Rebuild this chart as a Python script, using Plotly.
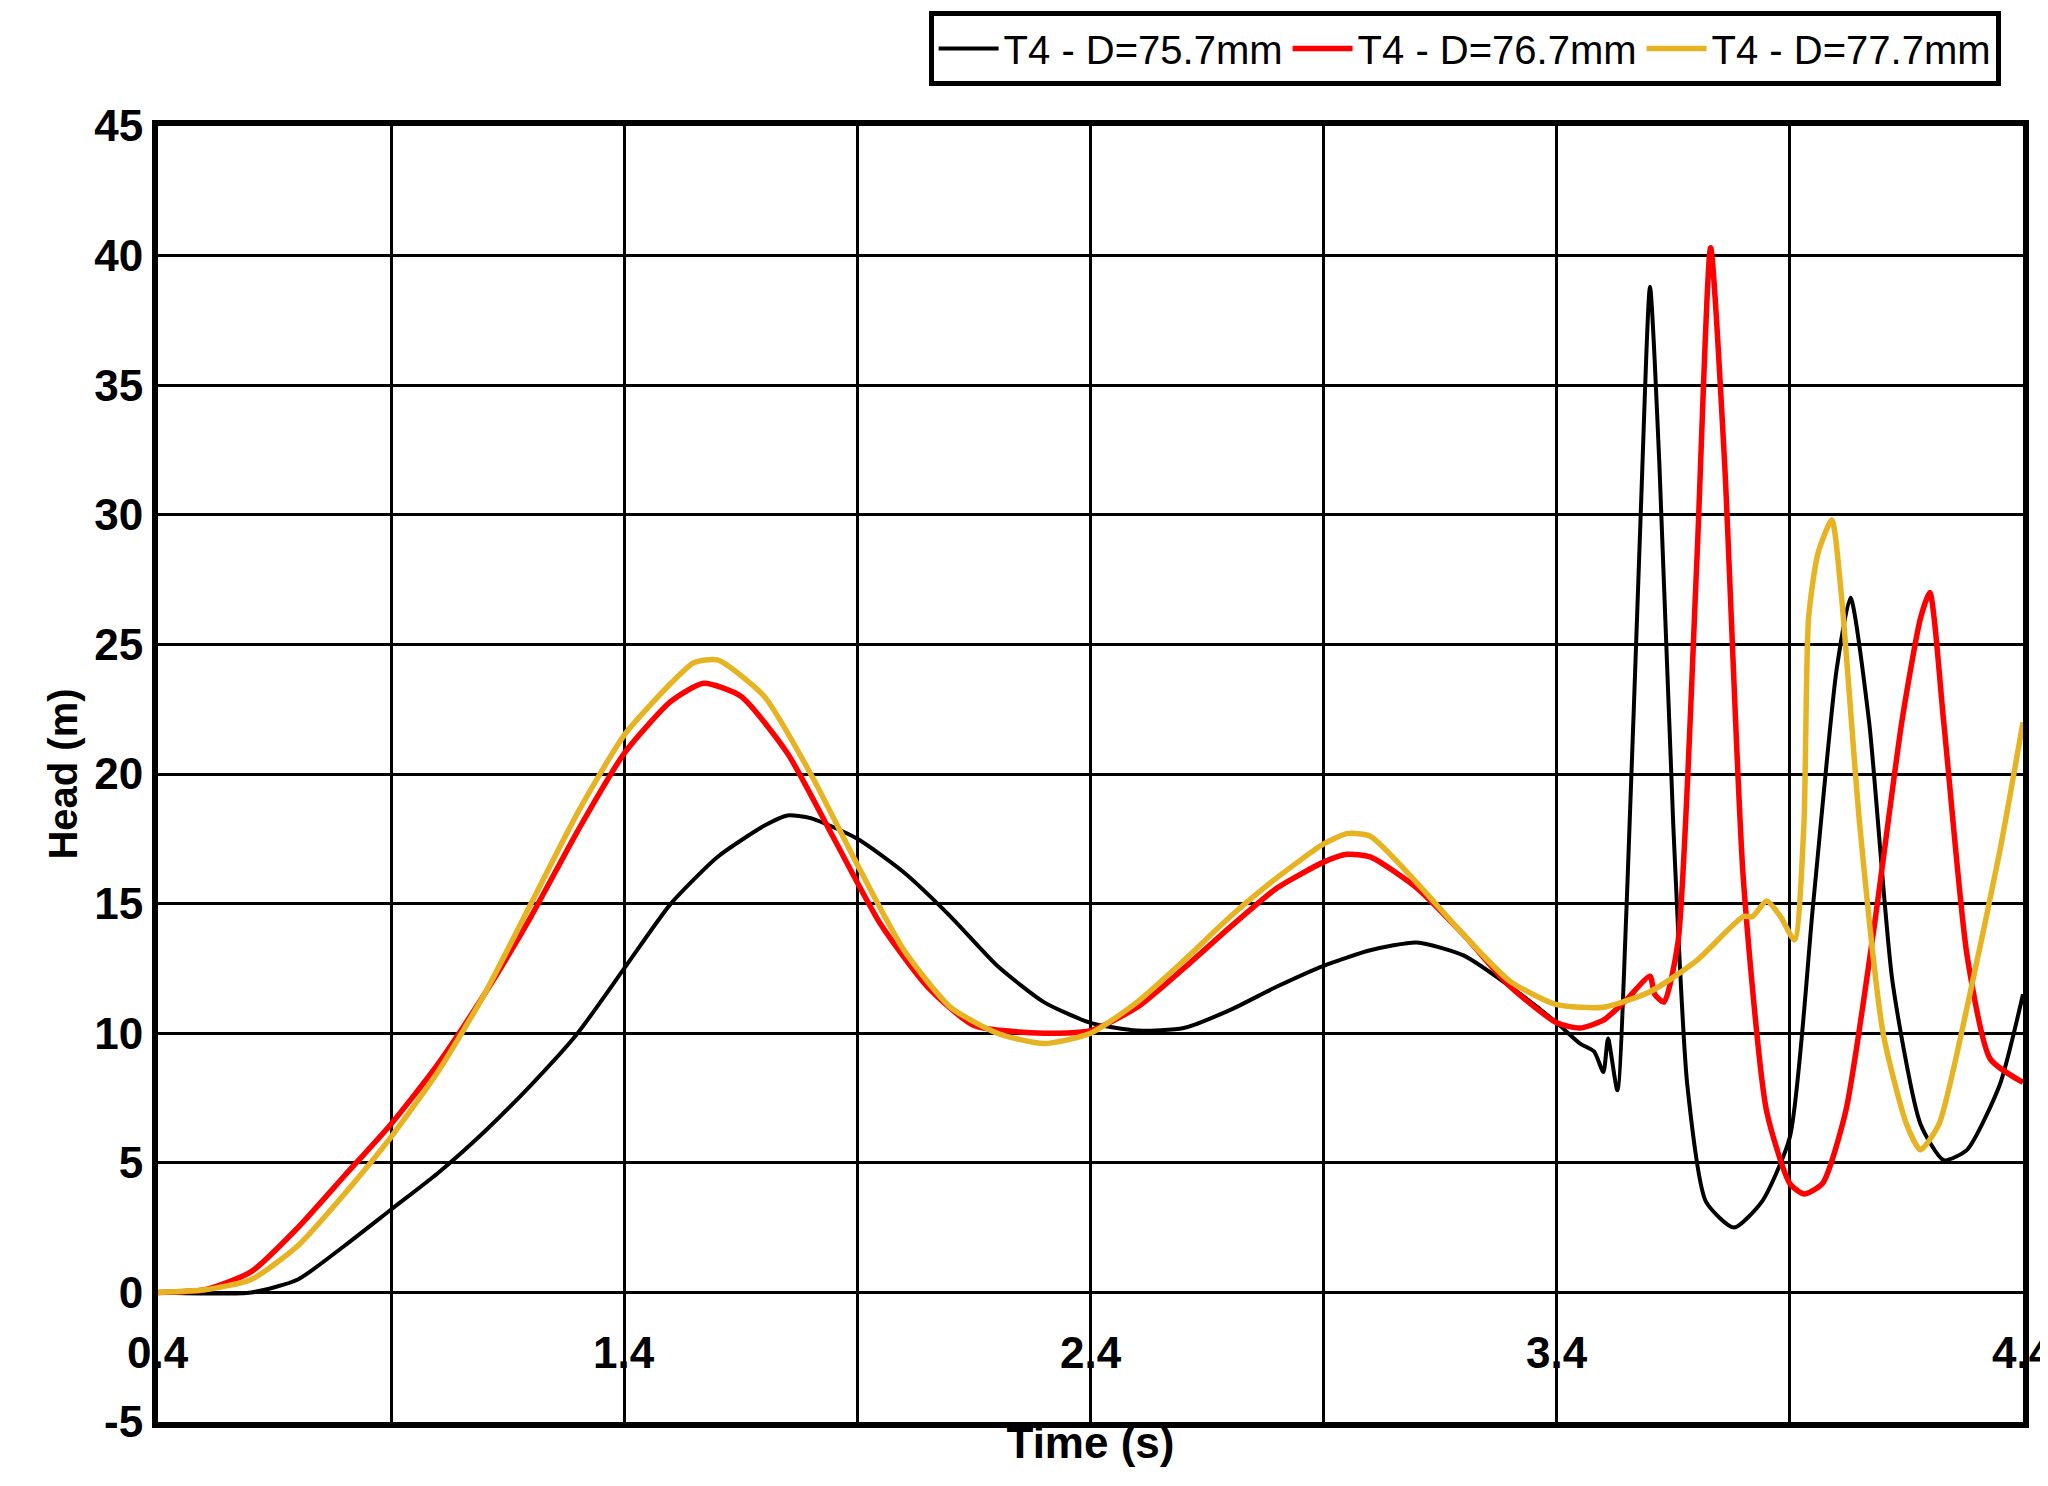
import plotly.graph_objects as go

x_black = [0.4,0.6,0.7,0.8,0.9,1.0,1.1,1.2,1.3,1.4,1.5,1.6,1.7,1.75,1.8,1.9,2.0,2.1,2.2,2.3,2.4,2.5,2.6,2.7,2.8,2.9,3.0,3.1,3.2,3.3,3.4,3.45,3.48,3.5,3.51,3.53,3.55,3.58,3.6,3.62,3.65,3.68,3.72,3.78,3.84,3.9,3.95,4.0,4.03,4.07,4.12,4.18,4.23,4.28,4.35,4.4]
y_black = [0,0,0.5,1.8,3.2,4.6,6.2,8,10,12.5,15,16.8,18,18.4,18.3,17.5,16.2,14.5,12.6,11.2,10.4,10.1,10.2,10.9,11.8,12.6,13.2,13.5,13,11.8,10.4,9.6,9.3,8.5,9.8,7.8,15,30,38.8,32,18,8,3.5,2.5,3.5,6,15,24,26.8,22,12,6.5,5.1,5.5,8,11.5]

x_red = [0.4,0.5,0.6,0.7,0.8,0.9,1.0,1.1,1.2,1.3,1.4,1.5,1.57,1.65,1.75,1.85,1.95,2.05,2.15,2.3,2.4,2.5,2.6,2.7,2.8,2.9,2.95,3.0,3.1,3.2,3.3,3.4,3.45,3.5,3.55,3.6,3.61,3.63,3.66,3.7,3.73,3.76,3.8,3.85,3.9,3.93,3.97,4.02,4.08,4.14,4.18,4.2,4.23,4.28,4.33,4.4]
y_red = [0,0.1,0.8,2.5,4.5,6.5,8.8,11.5,14.5,17.8,20.8,22.8,23.5,23,20.8,17.5,14.2,11.8,10.3,10,10.1,11,12.5,14.1,15.6,16.6,16.9,16.8,15.6,13.8,11.8,10.4,10.2,10.5,11.3,12.2,11.5,11.2,13.5,28,40.3,32,16,7,4.2,3.8,4.2,7,14,22,26,27,22,13,9,8.1]

x_yel = [0.4,0.5,0.6,0.7,0.8,0.9,1.0,1.1,1.2,1.3,1.4,1.5,1.55,1.6,1.7,1.8,1.9,2.0,2.1,2.2,2.3,2.4,2.5,2.6,2.7,2.8,2.9,2.95,3.0,3.1,3.2,3.3,3.4,3.5,3.6,3.7,3.8,3.82,3.85,3.88,3.91,3.93,3.94,3.96,3.99,4.01,4.05,4.1,4.15,4.18,4.22,4.28,4.35,4.4]
y_yel = [0,0.1,0.5,1.8,3.8,6,8.5,11.5,15,18.5,21.5,23.5,24.3,24.4,23,20,16.5,13.2,11,10,9.6,10,11.2,12.8,14.5,16,17.3,17.7,17.6,15.8,13.8,12,11.1,11,11.6,12.8,14.5,14.5,15.1,14.5,13.6,18,26,28.5,29.8,27,18,10,6.5,5.5,6.5,11,17,22]

x_labels = ["0.4","1.4","2.4","3.4","4.4"]
x_label_pos = [0.4,1.4,2.4,3.4,4.4]
y_ticks = [-5,0,5,10,15,20,25,30,35,40,45]
y_labels = ["-5","0","5","10","15","20","25","30","35","40","45"]

F = "Liberation Sans"
fig = go.Figure()
for xs, ys, c, n, w in [(x_black,y_black,"black","T4 - D=75.7mm",4),
                        (x_red,y_red,"#ff0000","T4 - D=76.7mm",5.5),
                        (x_yel,y_yel,"#e6b422","T4 - D=77.7mm",5.5)]:
    fig.add_trace(go.Scatter(x=xs, y=ys, mode="lines", name=n,
                             line=dict(color=c, width=w, shape="spline", smoothing=0.6)))

for xv, t in zip(x_label_pos, x_labels):
    fig.add_annotation(x=xv, y=-2.3, text="<b>%s</b>" % t, showarrow=False,
                       font=dict(family=F, size=44, color="black"))

fig.update_layout(
    width=2048, height=1486, paper_bgcolor="white", plot_bgcolor="white",
    margin=dict(l=150, r=33, t=118, b=72),
    font=dict(family=F, color="black"),
    showlegend=True,
    legend=dict(orientation="h", x=0.988, xanchor="right", y=0.998, yanchor="top",
                yref="container",
                bordercolor="black", borderwidth=5, font=dict(family=F, size=40),
                itemwidth=60, tracegroupgap=0),
    xaxis=dict(range=[0.4,4.4], dtick=0.5, tick0=0.4, showticklabels=False,
               showgrid=True, gridcolor="black", gridwidth=2.5, zeroline=False,
               showline=True, linecolor="black", linewidth=6, mirror=True, ticks="",
               title=dict(text="<b>Time (s)</b>", font=dict(family=F, size=44), standoff=2)),
    yaxis=dict(range=[-5,45], tickvals=y_ticks, ticktext=["<b>%s</b>" % s for s in y_labels],
               showgrid=True, gridcolor="black", gridwidth=2.5,
               zeroline=False, showline=True, linecolor="black", linewidth=6, mirror=True,
               ticks="", tickfont=dict(family=F, size=44),
               title=dict(text="<b>Head (m)</b>", font=dict(family=F, size=40), standoff=6)),
)
fig.update_traces(name=None)
for tr, n in zip(fig.data, ["T4 - D=75.7mm","T4 - D=76.7mm","T4 - D=77.7mm"]):
    tr.name = n
fig.write_html("out.html")
